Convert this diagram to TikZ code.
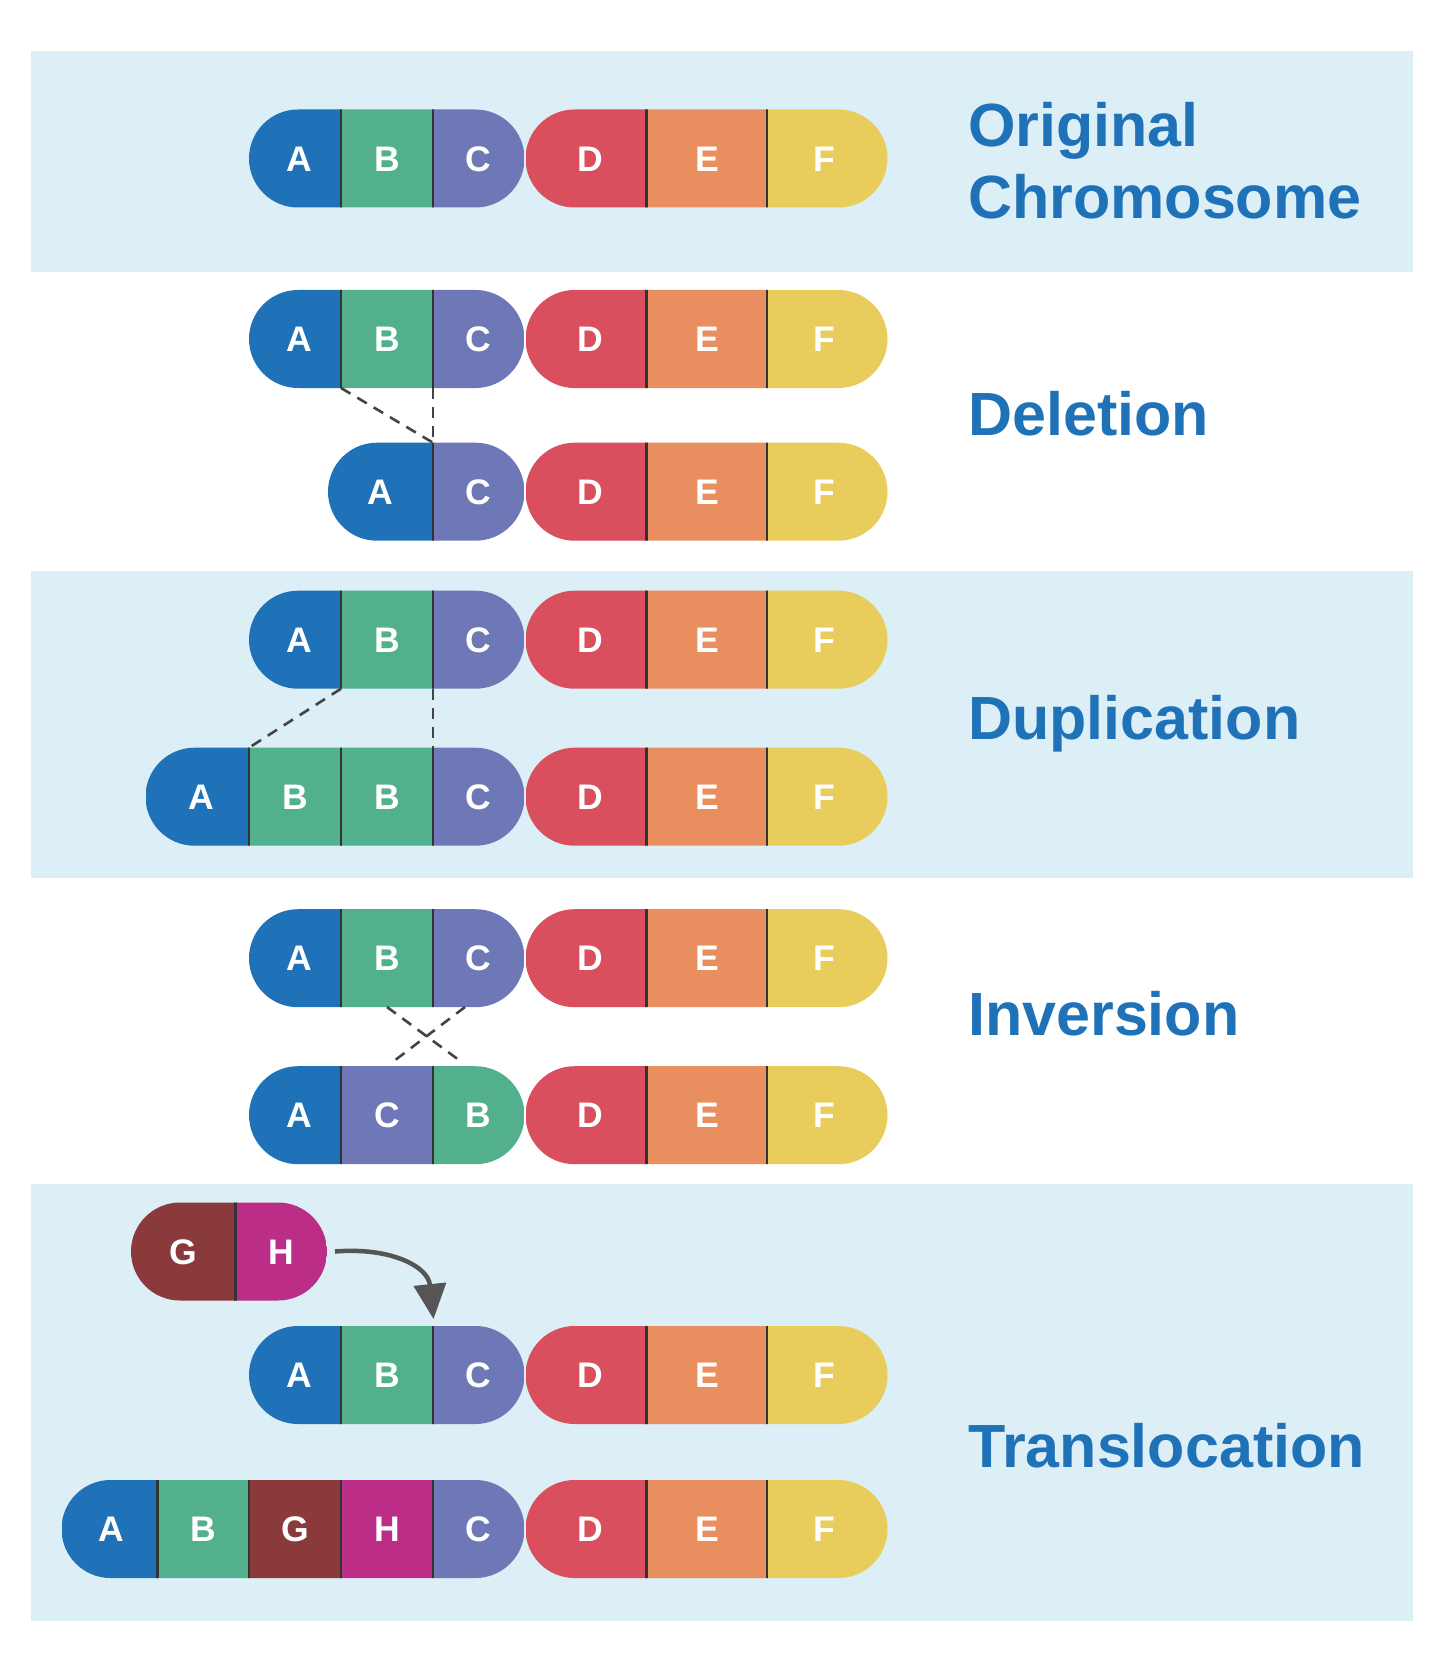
\documentclass[tikz,border=0pt]{standalone}
\usepackage{fontspec}
\setmainfont{Liberation Sans}
\usetikzlibrary{arrows.meta}
\definecolor{bandbg}{HTML}{DCEEF6}
\definecolor{titleblue}{HTML}{1F72B8}
\definecolor{cA}{HTML}{1F72B8}
\definecolor{cB}{HTML}{52B08C}
\definecolor{cC}{HTML}{6E78B6}
\definecolor{cD}{HTML}{D94F5E}
\definecolor{cE}{HTML}{E98E5F}
\definecolor{cF}{HTML}{E8CD5C}
\definecolor{cG}{HTML}{8B3A3C}
\definecolor{cH}{HTML}{BC2D88}
\definecolor{divcol}{HTML}{333333}
\definecolor{dashcol}{HTML}{444444}
\definecolor{arrowcol}{HTML}{555555}
\tikzset{
  divider/.style={draw=divcol, line width=2.4pt},
  seglab/.style={text=white, font=\fontsize{35.5}{40}\selectfont\bfseries, inner sep=0pt, anchor=base},
  title/.style={text=titleblue, font=\fontsize{61}{70}\selectfont\bfseries, inner sep=0pt, anchor=base west},
  cutline/.style={draw=dashcol, line width=2.6pt, dash pattern=on 11pt off 8pt},
  movearrow/.style={draw=arrowcol, line width=4.5pt, -{Triangle[length=35pt,width=32pt]}}
}
% #1 name prefix, #2 y centre, #3 left, #4 right, #5 segments xa/xb/colour/letter/label shift
\newcommand\chromo[5]{%
  \begin{scope}
    \clip[rounded corners=49pt] (#3,#2-49) rectangle (#4,#2+49);
    \foreach \xa/\xb/\col/\lab/\dx [count=\i] in {#5}{%
      \fill[\col] (\xa,#2-50) rectangle (\xb,#2+50);
      \ifnum\i>1 \draw[divider] (\xa,#2-50) -- (\xa,#2+50);\fi
    }
  \end{scope}
  \foreach \xa/\xb/\col/\lab/\dx [count=\i] in {#5}{%
    \node[seglab] (#1\i) at ({(\xa+\xb)/2+\dx},#2+12.6) {\lab};
  }
}
\newcommand\defpill[2]{% #1 prefix, #2 y
  \chromo{#1d}{#2}{525.5}{887.5}{525.5/646.5/cD/D/4,646.5/767.2/cE/E/0,767.2/887.5/cF/F/-3}}
\begin{document}
\begin{tikzpicture}[x=1pt,y=-1pt]
\fill[white] (0,0) rectangle (1440,1669);
\useasboundingbox (0,0) rectangle (1440,1669);
% bands
\fill[bandbg] (31,50.7) rectangle (1413.3,271.7);
\fill[bandbg] (31,571) rectangle (1413.3,877.7);
\fill[bandbg] (31,1183.5) rectangle (1413.3,1621);
% Original
\chromo{oa}{158.5}{249}{524.5}{249/341/cA/A/4,341/433/cB/B/0,433/524.5/cC/C/0}
\defpill{o}{158.5}
% Deletion
\chromo{dta}{339}{249}{524.5}{249/341/cA/A/4,341/433/cB/B/0,433/524.5/cC/C/0}
\defpill{dt}{339}
\chromo{dba}{491.7}{328}{524.5}{328/433/cA/A/0,433/524.5/cC/C/0}
\defpill{db}{491.7}
% Duplication
\chromo{uta}{639.7}{249}{524.5}{249/341/cA/A/4,341/433/cB/B/0,433/524.5/cC/C/0}
\defpill{ut}{639.7}
\chromo{uba}{796.7}{145.5}{524.5}{145.5/249/cA/A/4,249/341/cB/B/0,341/433/cB/B/0,433/524.5/cC/C/0}
\defpill{ub}{796.7}
% Inversion
\chromo{ita}{958.2}{249}{524.5}{249/341/cA/A/4,341/433/cB/B/0,433/524.5/cC/C/0}
\defpill{it}{958.2}
\chromo{iba}{1115.2}{249}{524.5}{249/341/cA/A/4,341/433/cC/C/0,433/524.5/cB/B/0}
\defpill{ib}{1115.2}
% Translocation
\chromo{gh}{1251.5}{131}{327}{131/235.5/cG/G/0,235.5/327/cH/H/0}
\chromo{tta}{1375}{249}{524.5}{249/341/cA/A/4,341/433/cB/B/0,433/524.5/cC/C/0}
\defpill{tt}{1375}
\chromo{tba}{1529}{61.5}{524.5}{61.5/157.5/cA/A/2,157.5/249/cB/B/0,249/341/cG/G/0,341/433/cH/H/0,433/524.5/cC/C/0}
\defpill{tb}{1529}
% cut lines
\coordinate (delAB) at (341,388);
\coordinate (delBC) at (433,388);
\coordinate (delAC) at (433,442.7);
\draw[cutline] (delAB) -- (delAC);
\draw[cutline] (delBC) -- (delAC);
\coordinate (dupAB) at (341,688.7);
\coordinate (dupBC) at (433,688.7);
\coordinate (dupAB2) at (249,747.7);
\coordinate (dupBC2) at (433,747.7);
\draw[cutline] (dupAB) -- (dupAB2);
\draw[cutline] (dupBC) -- (dupBC2);
\coordinate (invB1) at (387,1007);
\coordinate (invB2) at (463,1063);
\coordinate (invC1) at (465,1007);
\coordinate (invC2) at (390,1064);
\draw[cutline] (invB1) -- (invB2);
\draw[cutline] (invC1) -- (invC2);
% translocation arrow
\coordinate (ghR) at (335,1251.5);
\coordinate (ghT) at (433.5,1319);
\draw[movearrow] (ghR) .. controls (390,1247) and (428,1266) .. (ghT);
% titles
\node[title] (tOrig1) at (968,146.7) {Original};
\node[title] (tOrig2) at (968,218.3) {Chromosome};
\node[title] (tDel) at (968,435) {Deletion};
\node[title] (tDup) at (968,739.7) {Duplication};
\node[title] (tInv) at (968,1035.6) {Inversion};
\node[title] (tTra) at (968,1467.7) {Translocation};
\end{tikzpicture}
\end{document}
